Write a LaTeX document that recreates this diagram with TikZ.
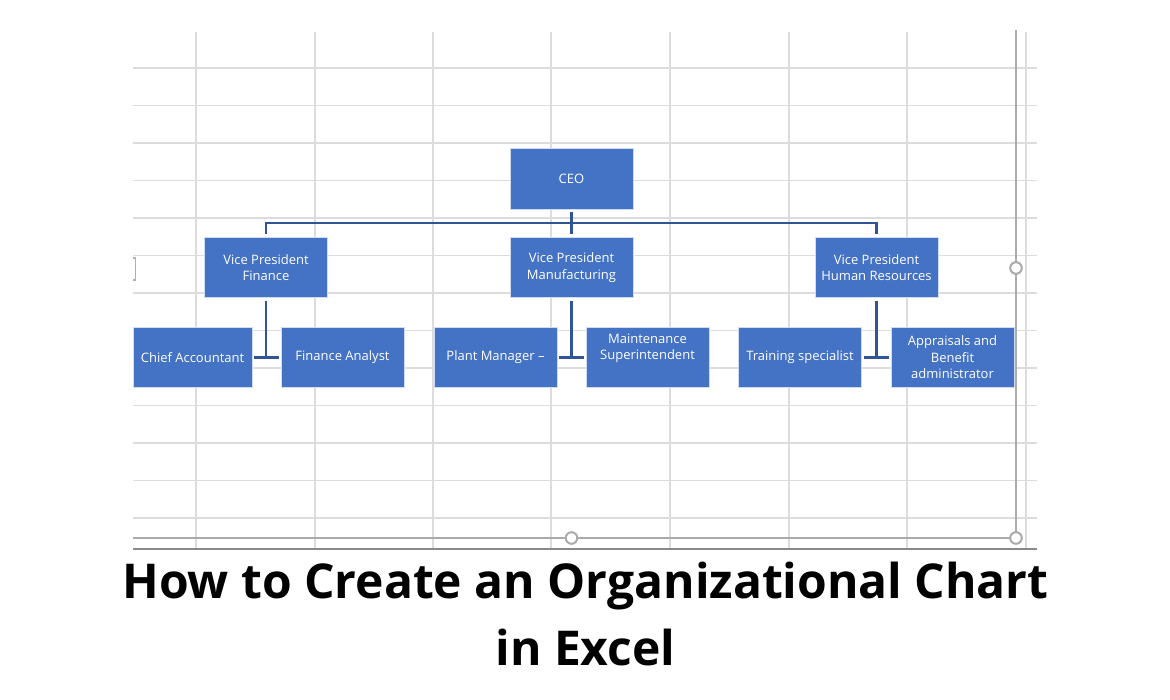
\documentclass[tikz,border=0pt]{standalone}
\usepackage{fontspec}
\setmainfont{Open Sans}
\definecolor{boxblue}{HTML}{4472C4}
\definecolor{linkblue}{HTML}{2F5597}
\definecolor{gridgray}{HTML}{DCDCDC}
\definecolor{selgray}{HTML}{ABABAB}
\begin{document}
\begin{tikzpicture}[x=1pt,y=-1pt,
  box/.style={rectangle,fill=boxblue,draw=white!75!boxblue,line width=0.8pt,
    minimum width=123pt,minimum height=60pt,inner sep=2pt,text=white,align=center,
    font=\fontsize{13}{16.5}\selectfont},
  link/.style={draw=linkblue,line width=2.6pt},
  gridline/.style={draw=gridgray,line width=1.8pt},
  handle/.style={fill=white,draw=selgray,line width=2pt}]
\useasboundingbox (0,0) rectangle (1170,700);
% sheet grid
\foreach \x in {196,315,433,551,670,789,907,1026}
	\draw[gridline] (\x,32) -- (\x,549);
\foreach \y in {68,105.5,143,180.5,218,255.5,293,330.5,368,405.5,443,480.5,518}
	\draw[gridline] (133,\y) -- (1037,\y);
\draw[draw=selgray!80!black,line width=1.5pt] (133,549) -- (1037,549);
% selection frame
\draw[draw=selgray,line width=2.4pt] (133,538) -- (1016,538) -- (1016,30);
\draw[draw=gridgray!80!black,line width=1.2pt] (133,258) -- (135.5,258) -- (135.5,280) -- (133,280);
\foreach \p in {(1016,268),(571.5,538),(1016,538)}
	\filldraw[handle] \p circle (5.8pt);
% chart
\node[box,minimum height=61pt] (ceo) at (571.5,178.5) {CEO};
\node[box] (vpfin) at (266,267.5) {Vice President\\Finance};
\node[box] (vpman) at (571.5,267.5) {Vice President\\Manufacturing};
\node[box] (vphr) at (876.5,267.5) {Vice President\\Human Resources};
\node[box,minimum width=119pt] (chief) at (192.5,357.5) {Chief Accountant};
\node[box] (analyst) at (342.5,357.5) {Finance Analyst};
\node[box] (plant) at (495.5,357.5) {Plant Manager --};
\node[box] (maint) at (647.5,357.5) {Maintenance\\Superintendent\\\strut};
\node[box] (training) at (800,357.5) {Training specialist};
\node[box] (apprais) at (952.5,357.5) {Appraisals and\\Benefit\\administrator};
\coordinate (bus) at (571.5,223);
\draw[link,shorten <=3pt,shorten >=3pt] (ceo) -- (vpman);
\draw[link,shorten <=3pt,shorten >=3pt] (vpfin.north) |- (bus) -| (vphr.north);
\foreach \vp/\l/\r in {vpfin/chief/analyst,vpman/plant/maint,vphr/training/apprais}{
	\draw[link,shorten <=3pt] (\vp.south) -- (\vp.south |- \l.east);
	\draw[link,shorten <=2pt,shorten >=2pt] (\l.east) -- (\r.west);
}
% caption
\node[anchor=base,font=\fontsize{48}{67}\bfseries\selectfont] (title) at (585.5,598) {How to Create an Organizational Chart};
\node[anchor=base,font=\fontsize{48}{67}\bfseries\selectfont] (title2) at (585.5,665) {in Excel};
\end{tikzpicture}
\end{document}
